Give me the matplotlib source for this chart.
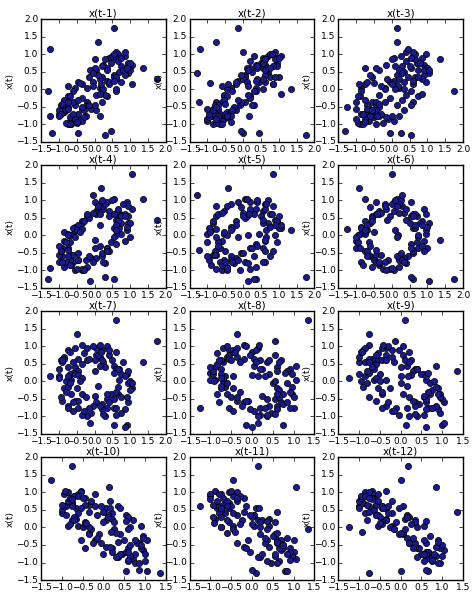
import numpy as np
import matplotlib
matplotlib.use("Agg")
import matplotlib.pyplot as plt

plt.style.use("classic")

# serie estacional (periodo ~26), leida a ojo de los lag plots
part0 = [-0.10, -0.55, -0.45, -0.85, -0.65, -1.00, -0.70, -0.90, -0.55, -0.75, -0.20, -0.35]
cycle_a = [0.15, 0.05, 0.55, 0.40, 0.90, 0.60, 1.05, 0.70, 0.95, 0.45, 0.75, 0.20, 0.35,
           -0.20, 0.05, -0.60, -0.35, -0.90, -0.65, -0.75, -1.00, -0.60, -0.85, -0.35, -0.55, 0.05]
cycle_b = [-0.15, 0.35, 0.25, 0.70, 0.50, 0.95, 0.75, 0.65, 1.00, 0.55, 0.35, 0.60, -0.05,
           0.20, -0.35, -0.25, -0.75, -0.50, -0.95, -0.70, -0.80, -0.95, -0.45, -0.70, -0.20, -0.45]
cycle_c = [0.20, 0.00, 0.60, 0.30, 0.85, 0.95, 0.65, 0.90, 0.60, 0.85, 0.40, 0.15, 0.30,
           -0.15, -0.45, -0.30, -0.80, -0.60, -0.70, -1.00, -0.75, -0.55, -0.85, -0.30, -0.60, -0.05]
part_d = [0.10, 0.40, 0.20, 0.65, 0.80, 0.55, 1.00, 0.75, 0.90, 0.60, 0.35, 0.55, 0.25]
# cola ruidosa (reconstruida de los puntos atipicos)
tail = [0.00, -0.45, -1.25, -0.75, -0.35, -0.50, -0.92, -0.42, 0.17, 0.15,
        -0.75, 0.10, 1.35, 0.60, 0.00, 0.85, 1.05, 0.14, -0.14, 0.55,
        1.75, 0.30, -1.30, -0.05, 0.45, -1.20, -1.25, 1.15]

series = np.array(part0 + cycle_a + cycle_b + cycle_c + part_d + tail)
lags = list(range(1, 13))

fig, axes = plt.subplots(4, 3, figsize=(4.74, 5.98), dpi=100, facecolor="white")
fig.subplots_adjust(left=0.0865, right=0.977, top=0.968, bottom=0.030,
                    wspace=0.19, hspace=0.19)

for ax, k in zip(axes.ravel(), lags):
    ax.scatter(series[:-k], series[k:], s=20, c="#1a1a8a", edgecolors="black",
               linewidths=0.5)
    ax.set_title("x(t-%d)" % k, fontsize=7.5, pad=2)
    ax.set_ylabel("x(t)", fontsize=6.5, labelpad=1)
    ax.tick_params(labelsize=6.5, pad=2, length=3)
    ax.set_facecolor("white")

fig.savefig("out.png", dpi=100, facecolor="white")
